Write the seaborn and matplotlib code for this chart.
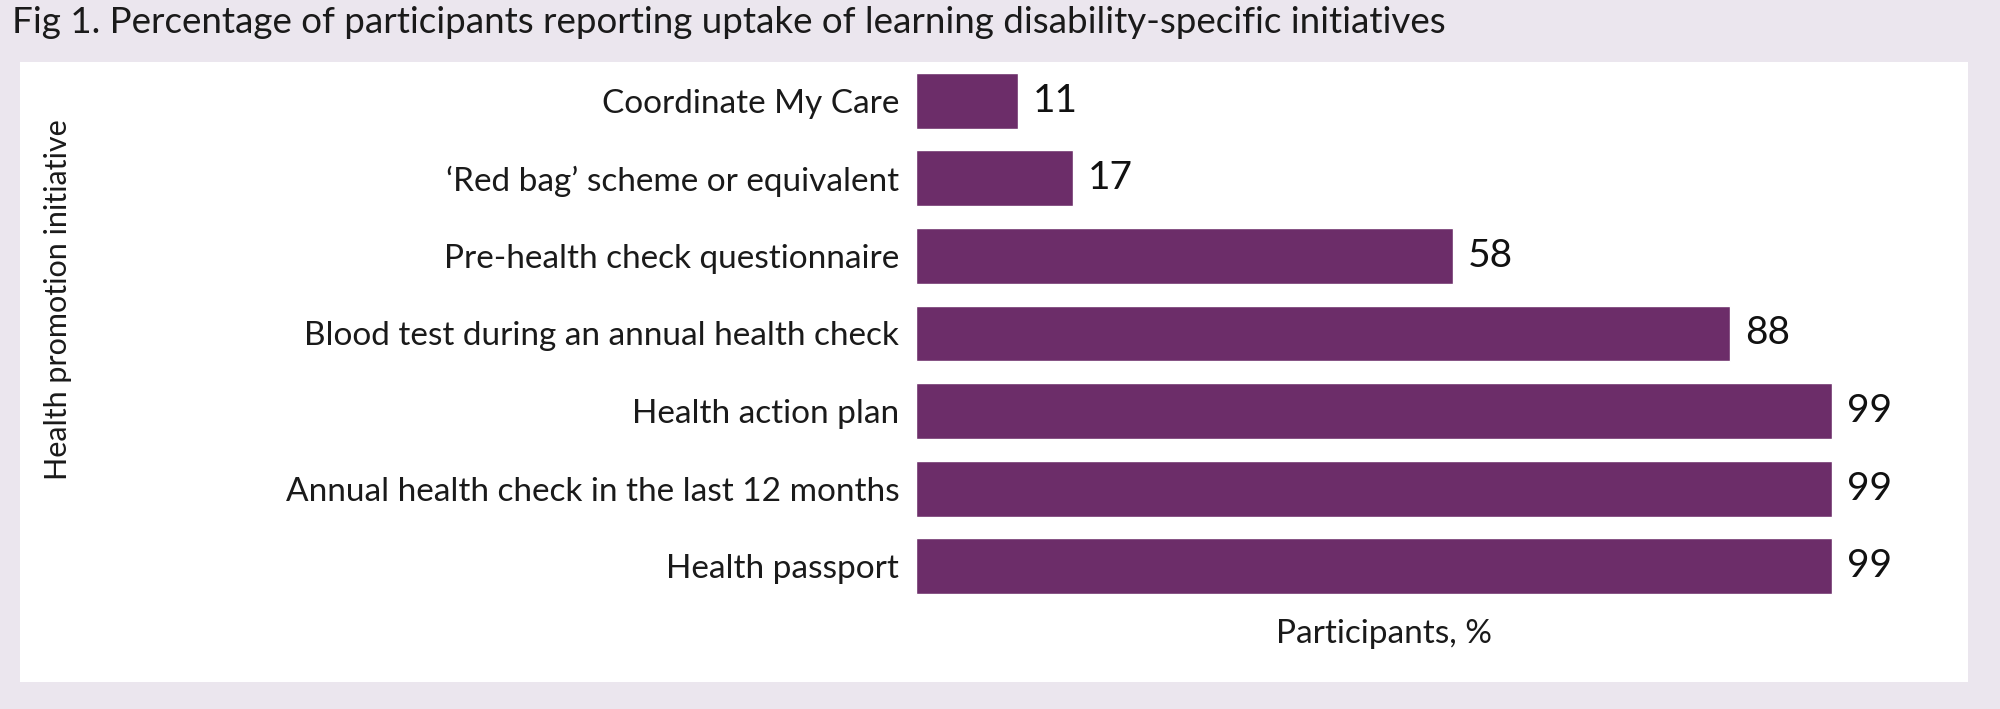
import matplotlib
matplotlib.use('Agg')
import matplotlib.pyplot as plt
import seaborn as sns
import pandas as pd
from matplotlib.patches import Rectangle

# data
initiatives = [
    'Coordinate My Care',
    '\u2018Red bag\u2019 scheme or equivalent',
    'Pre-health check questionnaire',
    'Blood test during an annual health check',
    'Health action plan',
    'Annual health check in the last 12 months',
    'Health passport',
]
participants_pct = [11, 17, 58, 88, 99, 99, 99]

title = 'Fig 1. Percentage of participants reporting uptake of learning disability-specific initiatives'
xlabel = 'Participants, %'
ylabel = 'Health promotion initiative'

BAR = '#6c2d69'
BG = '#ebe6ee'
FONT = ['Lato', 'DejaVu Sans']

sns.set_theme(style='white')
plt.rcParams['font.family'] = FONT

df = pd.DataFrame({'initiative': initiatives, 'pct': participants_pct})

fig = plt.figure(figsize=(20, 7.09), dpi=100, facecolor=BG)
# white inner panel
fig.patches.append(Rectangle((0.01, 0.038), 0.974, 0.8746, transform=fig.transFigure,
                             facecolor='white', edgecolor='none', zorder=-5))

ax = fig.add_axes([0.458, 0.1467, 0.4625, 0.766])
ax.set_zorder(2)
ax.set_facecolor('none')
sns.barplot(data=df, x='pct', y='initiative', orient='h', color=BAR,
            saturation=1, width=0.72, ax=ax)
ax.set_xlim(0, 100)
ax.set_ylim(6.5, -0.5)
for s in ax.spines.values():
    s.set_visible(False)
ax.set_xticks([])
ax.tick_params(axis='y', length=0, pad=12, labelsize=24, labelcolor='#1a1a1a')
ax.set_xlabel('')
ax.set_ylabel('')

for i, v in enumerate(participants_pct):
    ax.text(v + 1.6, i, str(v), va='center', ha='left', fontsize=28, color='#111111')

fig.text(0.006, 1 - 33 / 709, title, ha='left', va='baseline', fontsize=26.5,
         color='#1a1a1a', zorder=3)
fig.text(0.692, 1 - 634 / 709, xlabel, ha='center', va='center', fontsize=24,
         color='#1a1a1a', zorder=3)
fig.text(0.029, 1 - 300 / 709, ylabel, ha='center', va='center', rotation=90,
         fontsize=22, color='#1a1a1a', zorder=3)

fig.savefig('out.png', dpi=100, facecolor=BG)
